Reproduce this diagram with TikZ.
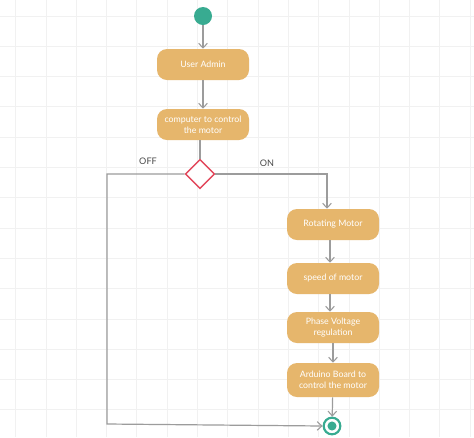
\documentclass[tikz,border=0pt]{standalone}
\usepackage{fontspec}
\setmainfont{Lato}
\usetikzlibrary{arrows.meta,shapes.geometric}
\definecolor{boxc}{HTML}{E6B66C}
\definecolor{teal}{HTML}{38AB91}
\definecolor{linec}{HTML}{9C9C9C}
\definecolor{redc}{HTML}{E2475B}
\definecolor{gridc}{HTML}{F1F1F1}
\definecolor{labc}{HTML}{4A4A4A}
\tikzset{
  act/.style={fill=boxc, draw=none, rounded corners=7.5pt, minimum width=69pt, minimum height=23.25pt,
    text=white, font=\fontsize{6.6}{8.2}\selectfont, align=center, inner sep=1pt},
  arr/.style={draw=linec, line width=0.9pt, -{Straight Barb[length=3.5pt,width=6.5pt,line width=0.8pt]}},
  ln/.style={draw=linec, line width=0.9pt},
  lab/.style={text=labc, font=\fontsize{6.8}{8.2}\selectfont},
}
\begin{document}
\begin{tikzpicture}[x=0.75pt,y=-0.75pt]
\useasboundingbox (0,0) rectangle (474,437);
\fill[white] (0,0) rectangle (474,437);
% grid
\foreach \i in {0,...,15} {
  \draw[gridc, line width=0.45pt] ({15.5+30.3*\i},0) -- ({15.5+30.3*\i},437);
  \draw[gridc, line width=0.45pt] (0,{15.8+30.3*\i}) -- (474,{15.8+30.3*\i});
}
% nodes
\node[circle, fill=teal, minimum size=13.5pt, inner sep=0pt] (start) at (203,16) {};
\node[act] (ua) at (203,64.5) {User Admin};
\node[act] (comp) at (203,124.5) {computer to control\\the motor};
\node[diamond, draw=redc, fill=white, line width=1.1pt, minimum width=22pt, minimum height=22pt, inner sep=0pt] (d) at (200,174) {};
\node[act] (rot) at (333,224.5) {Rotating Motor};
\node[act] (spd) at (333,278.5) {speed of motor};
\node[act] (ph) at (333,327.5) {Phase Voltage\\regulation};
\node[act, minimum height=25.5pt] (ard) at (333,380) {Arduino Board to\\control the motor};
\node[circle, draw=teal, line width=1.6pt, fill=white, minimum size=12.5pt, inner sep=0pt] (end) at (332,426) {};
\fill[teal] (end.center) circle (3.4pt);
\coordinate (offb) at (107,424);
% connectors
\draw[arr] (start) -- (ua);
\draw[arr] (ua) -- (comp);
\draw[ln] (comp.south -| d.north) -- (d.north);
\draw[arr] (d.east) -| ([xshift=-4.5pt]rot.north);
\draw[arr] ([xshift=-2.25pt]rot.south) -- ([xshift=-2.25pt]spd.north);
\draw[arr] ([xshift=-2.25pt]spd.south) -- ([xshift=-2.25pt]ph.north);
\draw[arr] (ph) -- (ard);
\draw[arr] (ard) -- (end);
\draw[arr] (d.west) -| (offb) -- (end.west);
% labels
\node[lab] (off) at (148,161) {OFF};
\node[lab] (on) at (267,163) {ON};
\end{tikzpicture}
\end{document}
